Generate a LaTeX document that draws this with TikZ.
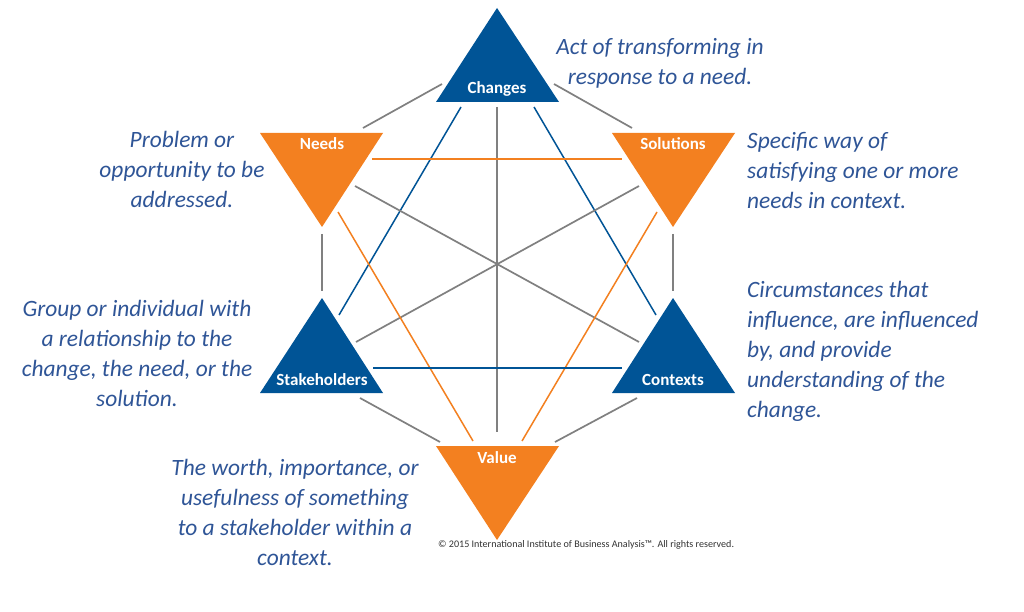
\documentclass[tikz,border=0pt]{standalone}
\usepackage{fontspec}
\setmainfont{Carlito}
\definecolor{triblue}{RGB}{0,84,150}
\definecolor{triorange}{RGB}{243,128,32}
\definecolor{txtblue}{RGB}{47,85,151}
\definecolor{linegray}{RGB}{128,128,128}
\begin{document}
\begin{tikzpicture}[x=1pt,y=-1pt,
  bluetri/.style={fill=triblue},
  orangetri/.style={fill=triorange},
  trilabel/.style={text=white,font=\bfseries\fontsize{17}{18}\selectfont,inner sep=0pt,anchor=base},
  desc/.style={text=txtblue,font=\itshape\fontsize{23.4}{30}\selectfont,inner sep=0pt,anchor=base},
  grayline/.style={draw=linegray,line width=1.7pt},
  blueline/.style={draw=triblue,line width=1.5pt},
  orangeline/.style={draw=triorange,line width=1.5pt}]
\useasboundingbox (0,0) rectangle (1024,612);
\fill[white] (0,0) rectangle (1024,612);

% triangles
\fill[bluetri] (497,8) -- (559,102) -- (436,102) -- cycle;
\fill[orangetri] (260,133) -- (383,133) -- (322,227) -- cycle;
\fill[orangetri] (612,133) -- (735,133) -- (673,227) -- cycle;
\fill[bluetri] (322,298) -- (383,393) -- (260,393) -- cycle;
\fill[bluetri] (673,298) -- (735,393) -- (612,393) -- cycle;
\fill[orangetri] (436,446) -- (559,446) -- (497,540) -- cycle;

% triangle labels
\node[trilabel] (changes) at (497,94) {Changes};
\node[trilabel] (needs) at (322,150) {Needs};
\node[trilabel] (solutions) at (673,150) {Solutions};
\node[trilabel] (stakeholders) at (322,385) {Stakeholders};
\node[trilabel] (contexts) at (673,385) {Contexts};
\node[trilabel] (value) at (497,463) {Value};

% connector end points
\coordinate (cg1a) at (442,84);  \coordinate (cg1b) at (363,128);
\coordinate (cg2a) at (554,84);  \coordinate (cg2b) at (632,128);
\coordinate (cg3a) at (497,107); \coordinate (cg3b) at (497,432);
\coordinate (cb1a) at (461,107); \coordinate (cb1b) at (339,315);
\coordinate (cb2a) at (534,107); \coordinate (cb2b) at (656,315);
\coordinate (co1a) at (372,159); \coordinate (co1b) at (622,159);
\coordinate (cg4a) at (355,186); \coordinate (cg4b) at (639,342);
\coordinate (cg5a) at (639,186); \coordinate (cg5b) at (356,342);
\coordinate (co2a) at (338,212); \coordinate (co2b) at (473,441);
\coordinate (co3a) at (657,212); \coordinate (co3b) at (522,441);
\coordinate (cg6a) at (322,234); \coordinate (cg6b) at (322,291);
\coordinate (cg7a) at (673,234); \coordinate (cg7b) at (673,291);
\coordinate (cb3a) at (373,368); \coordinate (cb3b) at (622,368);
\coordinate (cg8a) at (360,398); \coordinate (cg8b) at (440,442);
\coordinate (cg9a) at (637,398); \coordinate (cg9b) at (555,442);

% connectors
\draw[grayline] (cg1a) -- (cg1b);
\draw[grayline] (cg2a) -- (cg2b);
\draw[grayline] (cg3a) -- (cg3b);
\draw[blueline] (cb1a) -- (cb1b);
\draw[blueline] (cb2a) -- (cb2b);
\draw[orangeline] (co1a) -- (co1b);
\draw[grayline] (cg4a) -- (cg4b);
\draw[grayline] (cg5a) -- (cg5b);
\draw[orangeline] (co2a) -- (co2b);
\draw[orangeline] (co3a) -- (co3b);
\draw[grayline] (cg6a) -- (cg6b);
\draw[grayline] (cg7a) -- (cg7b);
\draw[blueline] (cb3a) -- (cb3b);
\draw[grayline] (cg8a) -- (cg8b);
\draw[grayline] (cg9a) -- (cg9b);

% descriptions (base anchor = baseline of the last line)
\node[desc,align=center] (dchanges) at (660,85) {Act of transforming in\\response to a need.};
\node[desc,align=center] (dneeds) at (182,208) {Problem or\\opportunity to be\\addressed.};
\node[desc,align=center] (dstake) at (137,406) {Group or individual with\\a relationship to the\\change, the need, or the\\solution.};
\node[desc,align=left,anchor=base west] (dsol) at (747,209) {Specific way of\\satisfying one or more\\needs in context.};
\node[desc,align=left,anchor=base west] (dctx) at (747,417) {Circumstances that\\influence, are influenced\\by, and provide\\understanding of the\\change.};
\node[desc,align=center] (dvalue) at (295,565) {The worth, importance, or\\usefulness of something\\to a stakeholder within a\\context.};

% copyright
\node[text=black!80,font=\fontsize{10.1}{11}\selectfont,inner sep=0pt,anchor=base west] (copy) at (438,547) {© 2015 International Institute of Business Analysis™. All rights reserved.};
\end{tikzpicture}
\end{document}
